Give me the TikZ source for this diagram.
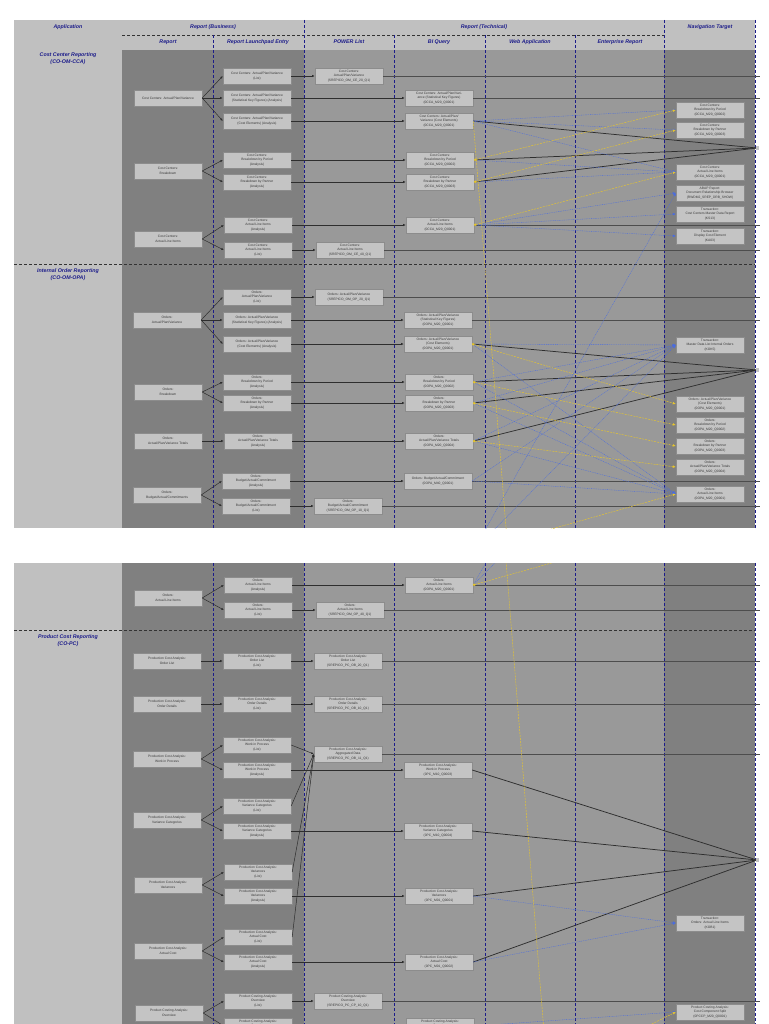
\documentclass[tikz,border=0pt]{standalone}
\usepackage{fontspec}
\setmainfont{Liberation Sans}
\usetikzlibrary{arrows.meta,calc}
\definecolor{hdr}{HTML}{C0C0C0}
\definecolor{dk}{HTML}{808080}
\definecolor{md}{HTML}{999999}
\definecolor{bxf}{HTML}{C4C4C4}
\definecolor{bxd}{HTML}{8C8C8C}
\definecolor{navy}{HTML}{1C1C8A}
\definecolor{yl}{HTML}{E6C52E}
\definecolor{blu}{HTML}{4A6CE0}
\definecolor{ln}{HTML}{2E2E2E}
\newcommand\mkbox[4]{\node[bx] (#1) at (#2,#3) {#4};}
\begin{document}
\begin{tikzpicture}[x=1pt,y=-1pt,
  bx/.style={draw=bxd,fill=bxf,line width=0.4pt,minimum width=68pt,minimum height=16.5pt,inner sep=0pt,align=center,text=black!78,font=\fontsize{3.3}{4.5}\selectfont},
  hd/.style={text=navy,font=\fontsize{5.3}{6.6}\selectfont\bfseries\itshape,align=center},
  vd/.style={draw=navy,line width=0.7pt,dash pattern=on 3pt off 2pt},
  sd/.style={draw=black!80,line width=0.6pt,dash pattern=on 3pt off 2pt},
  arr/.style={draw=ln,line width=0.5pt,-{Latex[length=2.6pt,width=2.2pt]}},
  hline/.style={draw=ln!85,line width=0.6pt},
  cline/.style={draw=ln,line width=0.75pt},
  bline/.style={draw=blu,line width=0.35pt,dash pattern=on 1pt off 0.8pt,-{Latex[length=3pt,width=2.6pt]}},
  yline/.style={draw=yl,line width=0.45pt,dash pattern=on 2pt off 1pt,{Square[length=2pt,width=2pt]}-{Latex[length=3pt,width=2.6pt]}},
  ylong/.style={draw=yl,line width=0.45pt,dash pattern=on 2pt off 1pt}]
\useasboundingbox (0,0) rectangle (768,1024);
\begin{scope}
\clip (0,0) rectangle (768,1024);
\fill[white] (0,0) rectangle (768,1024);
% ---------- backgrounds ----------
\fill[hdr] (14,20) rectangle (755,50);
\fill[hdr] (14,50) rectangle (122,528);
\fill[dk] (122,50) rectangle (304,528);
\fill[md] (304,50) rectangle (664,528);
\fill[dk] (664,50) rectangle (755,528);
\fill[hdr] (14,563) rectangle (122,1024);
\fill[dk] (122,563) rectangle (304,1024);
\fill[md] (304,563) rectangle (664,1024);
\fill[dk] (664,563) rectangle (755,1024);
% header
\draw[sd] (122,35) -- (664,35);
\node[hd] (hApp) at (68,27) {Application};
\node[hd] (hRB) at (213,27) {Report (Business)};
\node[hd] (hRT) at (484,27) {Report (Technical)};
\node[hd] (hNav) at (710,27) {Navigation Target};
\node[hd] (hR) at (168,42) {Report};
\node[hd] (hL) at (258,42) {Report Launchpad Entry};
\node[hd] (hP) at (349,42) {POWER List};
\node[hd] (hQ) at (439,42) {BI Query};
\node[hd] (hW) at (530,42) {Web Application};
\node[hd] (hE) at (620,42) {Enterprise Report};
% vertical dashed
\foreach \xx/\yy in {213/35,304/20,394/35,485/35,575/35,664/20,755/20}{
  \draw[vd] (\xx,\yy) -- (\xx,528);
  \draw[vd] (\xx,563) -- (\xx,1024);}
% section separators and labels
\draw[sd] (14,264) -- (755,264);
\draw[sd] (14,630) -- (755,630);
\node[hd,anchor=north] (s1) at (68,49.5) {Cost Center Reporting\\(CO-OM-CCA)};
\node[hd,anchor=north] (s2) at (68,265.5) {Internal Order Reporting\\(CO-OM-OPA)};
\node[hd,anchor=north] (s3) at (68,631.5) {Product Cost Reporting\\(CO-PC)};
\coordinate (edgeR) at (760,0);
\coordinate (A) at (757,148);
\coordinate (B) at (757,370);
\coordinate (C) at (757,860);
% ---------- boxes: Cost Centers ----------
\mkbox{r1}{168}{98}{Cost Centers: Actual/Plan/Variance}
\mkbox{r2}{168}{171}{Cost Centers:\\Breakdown}
\mkbox{r3}{168}{239}{Cost Centers:\\Actual Line Items}
\mkbox{l1}{257}{76}{Cost Centers: Actual/Plan/Variance\\(List)}
\mkbox{l2}{257}{98}{Cost Centers: Actual/Plan/Variance\\(Statistical Key Figures) (Analysis)}
\mkbox{l3}{257}{121}{Cost Centers: Actual/Plan/Variance\\(Cost Elements) (Analysis)}
\mkbox{l4}{257}{160}{Cost Centers:\\Breakdown by Period\\(Analysis)}
\mkbox{l5}{257}{182}{Cost Centers:\\Breakdown by Partner\\(Analysis)}
\mkbox{l6}{258}{225}{Cost Centers:\\Actual Line Items\\(Analysis)}
\mkbox{l7}{258}{250}{Cost Centers:\\Actual Line Items\\(List)}
\mkbox{p1}{349}{76}{Cost Centers:\\Actual/Plan/Variance\\(SREPICO\_OM\_CE\_20\_Q1)}
\mkbox{p2}{350}{250}{Cost Centers:\\Actual Line Items\\(SREPICO\_OM\_CE\_40\_Q1)}
\mkbox{q1}{439}{98}{Cost Centers: Actual/Plan/Vari-\\ance (Statistical Key Figures)\\(0CCA\_M20\_Q0001)}
\mkbox{q2}{439}{121}{Cost Centers: Actual/Plan/\\Variance (Cost Elements)\\(0CCA\_M20\_Q0001)}
\mkbox{q3}{440}{160}{Cost Centers:\\Breakdown by Period\\(0CCA\_M20\_Q0002)}
\mkbox{q4}{440}{182}{Cost Centers:\\Breakdown by Partner\\(0CCA\_M20\_Q0003)}
\mkbox{q5}{440}{225}{Cost Centers:\\Actual Line Items\\(0CCA\_M20\_Q0001)}
\mkbox{n1}{710}{110}{Cost Centers:\\Breakdown by Period\\(0CCA\_M20\_Q0002)}
\mkbox{n2}{710}{130}{Cost Centers:\\Breakdown by Partner\\(0CCA\_M20\_Q0003)}
\mkbox{n3}{710}{172}{Cost Centers:\\Actual Line Items\\(0CCA\_M20\_Q0001)}
\mkbox{n4}{710}{193}{ABAP Report:\\Document Relationship Browser\\(RWDM2\_SREP\_DRB\_SHOW)}
\mkbox{n5}{710}{214}{Transaction:\\Cost Centers Master Data Report\\(KS13)}
\mkbox{n6}{710}{236}{Transaction:\\Display Cost Element\\(KA03)}
% ---------- boxes: Orders ----------
\mkbox{r4}{167}{320}{Orders:\\Actual/Plan/Variance}
\mkbox{r5}{168}{392}{Orders:\\Breakdown}
\mkbox{r6}{168}{441}{Orders:\\Actual/Plan/Variance Totals}
\mkbox{r7}{167}{495}{Orders:\\Budget/Actual/Commitments}
\mkbox{l8}{257}{297}{Orders:\\Actual/Plan/Variance\\(List)}
\mkbox{l9}{257}{320}{Orders: Actual/Plan/Variance\\(Statistical Key Figures) (Analysis)}
\mkbox{l10}{257}{344}{Orders: Actual/Plan/Variance\\(Cost Elements) (Analysis)}
\mkbox{l11}{257}{382}{Orders:\\Breakdown by Period\\(Analysis)}
\mkbox{l12}{257}{403}{Orders:\\Breakdown by Partner\\(Analysis)}
\mkbox{l13}{258}{441}{Orders:\\Actual/Plan/Variance Totals\\(Analysis)}
\mkbox{l14}{256}{481}{Orders:\\Budget/Actual/Commitment\\(Analysis)}
\mkbox{l15}{256}{506}{Orders:\\Budget/Actual/Commitment\\(List)}
\mkbox{p3}{349}{297}{Orders: Actual/Plan/Variance\\(SREPICO\_OM\_OP\_20\_Q1)}
\mkbox{p4}{348}{506}{Orders:\\Budget/Actual/Commitment\\(SREPICO\_OM\_OP\_10\_Q1)}
\mkbox{q6}{438}{320}{Orders: Actual/Plan/Variance\\(Statistical Key Figures)\\(0OPA\_M20\_Q0001)}
\mkbox{q7}{438}{344}{Orders: Actual/Plan/Variance\\(Cost Elements)\\(0OPA\_M20\_Q0001)}
\mkbox{q8}{439}{382}{Orders:\\Breakdown by Period\\(0OPA\_M20\_Q0002)}
\mkbox{q9}{439}{403}{Orders:\\Breakdown by Partner\\(0OPA\_M20\_Q0003)}
\mkbox{q10}{439}{441}{Orders:\\Actual/Plan/Variance Totals\\(0OPA\_M20\_Q0004)}
\mkbox{q11}{438}{481}{Orders: Budget/Actual/Commitment\\(0OPA\_M40\_Q0001)}
\mkbox{n7}{710}{345}{Transaction:\\Master Data List Internal Orders\\(KOK5)}
\mkbox{n8}{710}{404}{Orders: Actual/Plan/Variance\\(Cost Elements)\\(0OPA\_M20\_Q0001)}
\mkbox{n9}{710}{425}{Orders:\\Breakdown by Period\\(0OPA\_M20\_Q0002)}
\mkbox{n10}{710}{446}{Orders:\\Breakdown by Partner\\(0OPA\_M20\_Q0003)}
\mkbox{n11}{710}{467}{Orders:\\Actual/Plan/Variance Totals\\(0OPA\_M20\_Q0004)}
\mkbox{n12}{710}{494}{Orders:\\Actual Line Items\\(0OPA\_M20\_Q0001)}
% ---------- boxes: bottom panel ----------
\mkbox{r8}{168}{598}{Orders:\\Actual Line Items}
\mkbox{r9}{167}{661}{Production Cost Analysis:\\Order List}
\mkbox{r10}{167}{704}{Production Cost Analysis:\\Order Details}
\mkbox{r11}{167}{759}{Production Cost Analysis:\\Work in Process}
\mkbox{r12}{167}{820}{Production Cost Analysis:\\Variance Categories}
\mkbox{r13}{168}{885}{Production Cost Analysis:\\Variances}
\mkbox{r14}{168}{951}{Production Cost Analysis:\\Actual Cost}
\mkbox{r15}{169}{1013}{Product Costing Analysis:\\Overview}
\mkbox{l16}{258}{585}{Orders:\\Actual Line Items\\(Analysis)}
\mkbox{l17}{258}{610}{Orders:\\Actual Line Items\\(List)}
\mkbox{l18}{257}{661}{Production Cost Analysis:\\Order List\\(List)}
\mkbox{l19}{257}{704}{Production Cost Analysis:\\Order Details\\(List)}
\mkbox{l20}{257}{745}{Production Cost Analysis:\\Work in Process\\(List)}
\mkbox{l21}{257}{770}{Production Cost Analysis:\\Work in Process\\(Analysis)}
\mkbox{l22}{257}{806}{Production Cost Analysis:\\Variance Categories\\(List)}
\mkbox{l23}{257}{831}{Production Cost Analysis:\\Variance Categories\\(Analysis)}
\mkbox{l24}{258}{872}{Production Cost Analysis:\\Variances\\(List)}
\mkbox{l25}{258}{896}{Production Cost Analysis:\\Variances\\(Analysis)}
\mkbox{l26}{258}{937}{Production Cost Analysis:\\Actual Cost\\(List)}
\mkbox{l27}{258}{962}{Production Cost Analysis:\\Actual Cost\\(Analysis)}
\mkbox{l28}{258}{1001}{Product Costing Analysis:\\Overview\\(List)}
\mkbox{l29}{258}{1026}{Product Costing Analysis:\\Overview\\(Analysis)}
\mkbox{p5}{350}{610}{Orders:\\Actual Line Items\\(SREPICO\_OM\_OP\_40\_Q1)}
\mkbox{p6}{348}{661}{Production Cost Analysis:\\Order List\\(SREPICO\_PC\_OB\_20\_Q1)}
\mkbox{p7}{348}{704}{Production Cost Analysis:\\Order Details\\(SREPICO\_PC\_OB\_10\_Q1)}
\mkbox{p8}{348}{754}{Production Cost Analysis:\\Aggregated Data\\(SREPICO\_PC\_OB\_11\_Q1)}
\mkbox{p9}{348}{1001}{Product Costing Analysis:\\Overview\\(SREPICO\_PC\_CP\_10\_Q1)}
\mkbox{q12}{439}{585}{Orders:\\Actual Line Items\\(0OPA\_M20\_Q0001)}
\mkbox{q13}{438}{770}{Production Cost Analysis:\\Work in Process\\(0PC\_M10\_Q0003)}
\mkbox{q14}{438}{831}{Production Cost Analysis:\\Variance Categories\\(0PC\_M10\_Q0004)}
\mkbox{q15}{439}{896}{Production Cost Analysis:\\Variances\\(0PC\_M01\_Q0001)}
\mkbox{q16}{439}{962}{Production Cost Analysis:\\Actual Cost\\(0PC\_M01\_Q0002)}
\mkbox{q17}{440}{1026}{Product Costing Analysis:\\Overview\\(0PCCP\_M20\_Q0002)}
\mkbox{n13}{710}{923}{Transaction:\\Orders: Actual Line Items\\(KOB1)}
\mkbox{n14}{710}{1012}{Product Costing Analysis:\\Cost Component Split\\(0PCCP\_M20\_Q0001)}
% ---------- report -> launchpad fans ----------
\foreach \a/\b in {r1/l1,r1/l2,r1/l3,r2/l4,r2/l5,r3/l6,r3/l7,r4/l8,r4/l9,r4/l10,r5/l11,r5/l12,r6/l13,r7/l14,r7/l15,r8/l16,r8/l17,r9/l18,r10/l19,r11/l20,r11/l21,r12/l22,r12/l23,r13/l24,r13/l25,r14/l26,r14/l27,r15/l28,r15/l29}
  \draw[arr] (\a.east) -- (\b.west);
% launchpad -> POWER / BI
\foreach \a/\b in {l1/p1,l7/p2,l8/p3,l15/p4,l17/p5,l18/p6,l19/p7,l20/p8,l22/p8,l24/p8,l26/p8,l28/p9,l2/q1,l3/q2,l4/q3,l5/q4,l6/q5,l9/q6,l10/q7,l11/q8,l12/q9,l13/q10,l14/q11,l16/q12,l21/q13,l23/q14,l25/q15,l27/q16,l29/q17}
  \draw[arr] (\a.east) -- (\b.west);
% lines leaving to the right
\foreach \a in {p1,q1,q5,p2,p3,q6,q11,p4,q12,p5,p6,p7,p8,p9}
  \draw[hline] (\a.east) -- (\a.east -| edgeR);
% converging lines
\foreach \a in {q2,q3,q4} \draw[cline] (\a.east) -- (A);
\foreach \a in {q7,q8,q9,q10} \draw[cline] (\a.east) -- (B);
\foreach \a in {q13,q14,q15,q16} \draw[cline] (\a.east) -- (C);
\fill[bxf] ($(A)+(-1.5,-2)$) rectangle ($(A)+(1.5,2)$);
\fill[bxf] ($(B)+(-1.5,-2)$) rectangle ($(B)+(1.5,2)$);
\fill[bxf] ($(C)+(-1.5,-2)$) rectangle ($(C)+(1.5,2)$);
% blue navigation links
\foreach \a/\b in {q2/n1,q2/n2,q2/n3,q3/n3,q4/n3,q5/n4,q5/n5,q5/n6,q7/n7,q8/n7,q9/n7,q10/n7,q11/n7,q7/n12,q8/n12,q9/n12,q10/n12,q11/n12,q15/n13,q16/n13,q17/n14}
  \draw[bline] (\a.east) -- (\b.west);
% yellow navigation links
\foreach \a/\b in {q3/n1,q4/n2,q5/n3,q7/n8,q8/n9,q9/n10,q10/n11}
  \draw[yline] (\a.east) -- (\b.west);
\coordinate (ysrc) at (610,1045);
\draw[yline] (ysrc) -- (n14.west);
% links running across the page break
\coordinate (q12up) at ($(q12.east)+(0,-34)$);
\coordinate (n4dn) at ($(n4.west)+(0,34)$);
\coordinate (n7dn) at ($(n7.west)+(0,34)$);
\coordinate (n12dn) at ($(n12.west)+(0,34)$);
\coordinate (q2dn) at ($(q2.east)+(0,34)$);
\coordinate (yv1) at (549,1060);
\coordinate (yv2) at (549,1094);
\begin{scope}
  \clip (14,50) rectangle (760,528);
  \draw[bline] (q12up) -- (n4.west);
  \draw[bline] (q12up) -- (n7.west);
  \draw[yline] (q12up) -- (n12.west);
  \draw[ylong] (q2.east) -- (yv1);
\end{scope}
\begin{scope}
  \clip (14,563) rectangle (760,1024);
  \draw[bline] (q12.east) -- (n4dn);
  \draw[bline] (q12.east) -- (n7dn);
  \draw[yline] (q12.east) -- (n12dn);
  \draw[ylong] (q2dn) -- (yv2);
\end{scope}
\end{scope}
\end{tikzpicture}
\end{document}
